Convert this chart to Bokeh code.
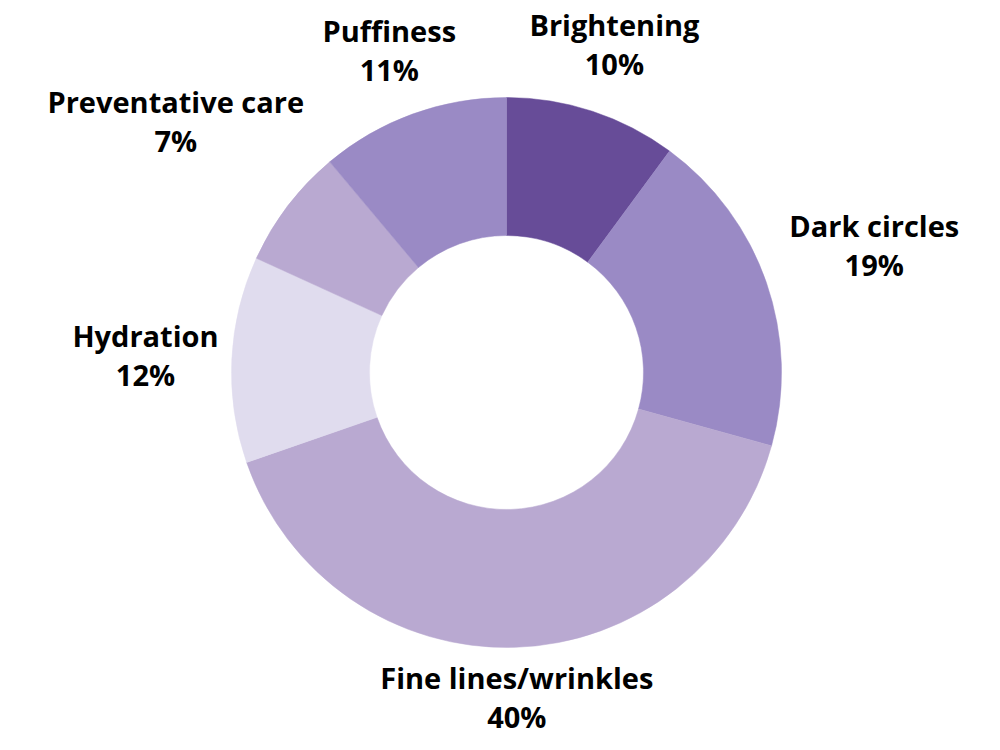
import math
from bokeh.plotting import figure
from bokeh.models import ColumnDataSource, Range1d
from bokeh.core.properties import value
from bokeh.embed import file_html
from bokeh.resources import INLINE

# ---- data ----
categories = ["Brightening", "Dark circles", "Fine lines/wrinkles",
              "Hydration", "Preventative care", "Puffiness"]
percent = [10, 19, 40, 12, 7, 11]
colors = ["#674c98", "#9a8ac5", "#b9a9d1", "#e0dcee", "#b9a9d1", "#9a8ac5"]

# ---- geometry (pixel-like data units) ----
W, H = 1000, 750
cx, cy = 506, 378
r_out, r_in = 275, 137
r_lab = 288
char_w, half_h = 16.0, 32.0

total = float(sum(percent))
starts, ends, lx, ly, labels = [], [], [], [], []
cum = 0.0
for cat, v in zip(categories, percent):
    f0 = cum / total
    cum += v
    f1 = cum / total
    # clockwise from 12 o'clock
    starts.append(math.pi / 2 - 2 * math.pi * f1)
    ends.append(math.pi / 2 - 2 * math.pi * f0)
    mid = 2 * math.pi * (f0 + f1) / 2
    s, c = math.sin(mid), math.cos(mid)
    half_w = len(cat) * char_w / 2
    e = abs(s) * half_w + abs(c) * half_h
    d = r_lab + e
    lx.append(cx + s * d)
    ly.append(cy + c * d)
    labels.append(f"{cat}\n{v}%")

src = ColumnDataSource(dict(start=starts, end=ends, color=colors,
                            x=[cx] * len(categories), y=[cy] * len(categories)))
lsrc = ColumnDataSource(dict(x=lx, y=ly, text=labels))

p = figure(width=W, height=H, x_range=Range1d(0, W), y_range=Range1d(0, H),
           output_backend="svg", toolbar_location=None, min_border=0,
           background_fill_color="white", border_fill_color="white")
p.axis.visible = False
p.grid.visible = False
p.outline_line_color = None

p.annular_wedge(x="x", y="y", inner_radius=r_in, outer_radius=r_out,
                start_angle="start", end_angle="end", color="color",
                line_color="color", line_width=0.5, source=src)

p.text(x="x", y="y", text="text", source=lsrc,
       text_font=value("Open Sans"), text_font_style="bold",
       text_font_size="29px", text_color="black",
       text_align="center", text_baseline="middle", text_line_height=1.0)

open("out.html", "w").write(file_html(p, INLINE))
